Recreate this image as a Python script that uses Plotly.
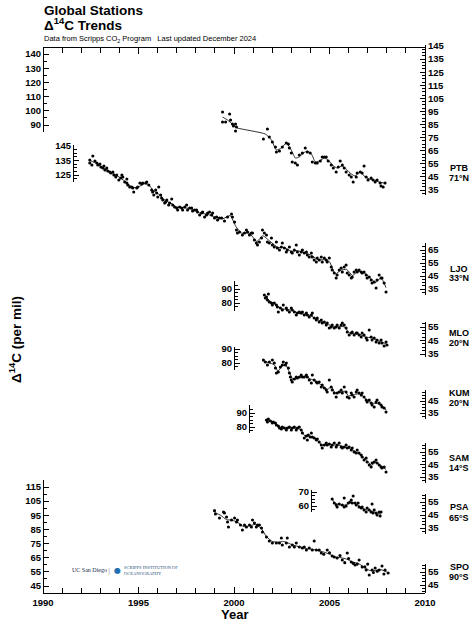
import plotly.graph_objects as go

# ---------------------------------------------------------------
# Delta 14C (per mil) as (decimal year, value)
# ---------------------------------------------------------------
ptb_points = [(1999.40, 94.6), (1999.40, 87.0), (1999.56, 87.0), (1999.77, 93.1), (1999.82, 88.5),
              (1999.92, 85.5), (1999.97, 83.9), (2000.08, 85.5), (2000.13, 83.2), (2000.08, 80.1),
              (2001.54, 74.0), (2001.75, 81.6), (2001.85, 75.5), (2002.01, 71.7), (2002.17, 67.9),
              (2002.22, 64.1), (2002.38, 64.8), (2002.53, 67.9), (2002.74, 71.0), (2002.85, 70.2),
              (2002.90, 67.1), (2003.00, 63.3), (2003.05, 56.5), (2003.21, 55.7), (2003.32, 54.2),
              (2003.42, 61.8), (2003.58, 63.3), (2003.73, 67.1), (2003.84, 64.1), (2003.99, 63.3),
              (2004.10, 56.5), (2004.26, 55.7), (2004.36, 55.7), (2004.52, 57.2), (2004.62, 60.3),
              (2004.73, 60.3), (2004.83, 60.3), (2004.93, 57.2), (2005.09, 54.2), (2005.20, 51.9),
              (2005.35, 48.8), (2005.46, 52.6), (2005.56, 57.2), (2005.67, 54.2), (2005.77, 51.9),
              (2005.87, 48.8), (2006.03, 46.5), (2006.14, 45.0), (2006.24, 41.2), (2006.40, 45.0),
              (2006.45, 48.0), (2006.61, 48.8), (2006.71, 48.0), (2006.81, 53.4), (2006.92, 45.0),
              (2007.02, 42.7), (2007.18, 44.2), (2007.28, 42.7), (2007.39, 41.2), (2007.49, 42.7),
              (2007.65, 40.4), (2007.70, 38.1), (2007.81, 37.4), (2007.91, 40.4)]
ptb_fit = [(1999.40, 90.8), (1999.66, 88.5), (2000.03, 83.9), (2000.18, 82.4), (2001.64, 77.8),
           (2001.96, 73.2), (2002.22, 65.6), (2002.48, 67.1), (2002.74, 71.0), (2003.00, 65.6),
           (2003.21, 59.5), (2003.42, 60.3), (2003.63, 63.3), (2003.84, 64.8), (2004.05, 62.6),
           (2004.26, 56.5), (2004.46, 57.2), (2004.73, 59.5), (2004.93, 58.0), (2005.20, 53.4),
           (2005.40, 51.9), (2005.67, 53.4), (2005.87, 51.1), (2006.14, 47.3), (2006.34, 45.8),
           (2006.61, 48.8), (2006.81, 45.8), (2007.08, 43.5), (2007.34, 42.7), (2007.60, 41.2),
           (2007.86, 40.4)]

ljo_points = [(1992.45, 134.2), (1992.45, 131.9), (1992.56, 130.4), (1992.61, 137.3), (1992.72, 133.5),
              (1992.82, 131.9), (1992.87, 130.4), (1992.98, 131.2), (1993.03, 128.8), (1993.13, 128.1),
              (1993.19, 129.6), (1993.24, 126.5), (1993.34, 128.1), (1993.39, 125.8), (1993.50, 125.0),
              (1993.55, 124.2), (1993.66, 125.0), (1993.71, 122.7), (1993.81, 121.2), (1993.86, 122.7),
              (1993.97, 118.8), (1994.07, 120.4), (1994.13, 122.7), (1994.18, 121.2), (1994.28, 117.3),
              (1994.39, 116.5), (1994.39, 119.6), (1994.44, 115.0), (1994.54, 113.5), (1994.65, 113.5),
              (1994.70, 112.7), (1994.75, 109.6), (1994.91, 112.7), (1994.96, 113.5), (1995.07, 116.5),
              (1995.17, 115.8), (1995.22, 116.5), (1995.38, 116.5), (1995.43, 117.3), (1995.54, 115.0),
              (1995.69, 111.2), (1995.74, 109.6), (1995.80, 107.3), (1995.90, 111.2), (1995.95, 108.8),
              (1996.01, 105.8), (1996.06, 113.5), (1996.16, 107.3), (1996.21, 105.0), (1996.27, 103.5),
              (1996.37, 101.2), (1996.42, 101.9), (1996.48, 103.5), (1996.58, 99.6), (1996.63, 101.2),
              (1996.74, 104.2), (1996.79, 99.6), (1996.89, 98.1), (1997.00, 97.3), (1997.05, 95.8),
              (1997.15, 98.1), (1997.26, 97.3), (1997.31, 95.8), (1997.42, 98.1), (1997.52, 99.6),
              (1997.57, 95.8), (1997.68, 97.3), (1997.78, 97.3), (1997.83, 95.0), (1997.94, 95.8),
              (1998.04, 95.8), (1998.09, 94.2), (1998.20, 91.9), (1998.30, 93.5), (1998.36, 94.2),
              (1998.46, 90.4), (1998.56, 91.9), (1998.62, 93.5), (1998.72, 94.2), (1998.83, 91.9),
              (1998.88, 93.5), (1998.98, 89.6), (1999.09, 90.4), (1999.14, 88.1), (1999.24, 89.6),
              (1999.35, 89.6), (1999.50, 87.3), (1999.66, 90.4), (1999.87, 92.7), (1999.92, 90.4),
              (2000.03, 86.5), (2000.13, 80.4), (2000.18, 78.1), (2000.29, 78.8), (2000.44, 76.5),
              (2000.55, 78.1), (2000.65, 80.4), (2000.71, 78.8), (2000.81, 76.5), (2000.91, 78.1),
              (2000.97, 78.1), (2001.07, 72.7), (2001.17, 70.4), (2001.23, 68.8), (2001.33, 71.2),
              (2001.44, 74.2), (2001.49, 80.4), (2001.59, 78.1), (2001.70, 76.5), (2001.75, 71.2),
              (2001.85, 70.4), (2001.96, 74.2), (2002.01, 68.8), (2002.11, 67.3), (2002.22, 71.2),
              (2002.27, 66.5), (2002.38, 65.0), (2002.48, 67.3), (2002.53, 70.4), (2002.64, 66.5),
              (2002.74, 63.5), (2002.79, 65.0), (2002.90, 67.3), (2003.00, 63.5), (2003.05, 62.7),
              (2003.16, 65.0), (2003.26, 68.8), (2003.32, 63.5), (2003.42, 61.2), (2003.52, 63.5),
              (2003.58, 65.0), (2003.68, 62.7), (2003.79, 63.5), (2003.84, 61.2), (2003.94, 59.6),
              (2004.05, 62.7), (2004.10, 59.6), (2004.20, 57.3), (2004.31, 55.8), (2004.36, 58.8),
              (2004.46, 57.3), (2004.57, 59.6), (2004.62, 55.8), (2004.73, 58.8), (2004.83, 57.3),
              (2004.88, 55.8), (2004.99, 58.8), (2005.09, 51.9), (2005.14, 49.6), (2005.25, 47.3),
              (2005.35, 43.5), (2005.40, 45.8), (2005.51, 49.6), (2005.61, 51.2), (2005.67, 48.1),
              (2005.77, 51.9), (2005.87, 53.5), (2005.93, 47.3), (2006.03, 45.8), (2006.14, 43.5),
              (2006.19, 44.2), (2006.29, 48.1), (2006.40, 49.6), (2006.45, 48.1), (2006.55, 49.6),
              (2006.66, 48.1), (2006.71, 47.3), (2006.81, 48.1), (2006.92, 45.8), (2006.97, 43.5),
              (2007.08, 44.2), (2007.18, 41.9), (2007.23, 39.6), (2007.34, 40.4), (2007.44, 35.8),
              (2007.49, 41.9), (2007.60, 45.8), (2007.70, 43.5), (2007.75, 43.5), (2007.86, 39.6),
              (2007.96, 32.7)]
ljo_fit = [(1992.45, 134.0), (1992.8, 131.5), (1993.2, 128.0), (1993.6, 124.5), (1994.0, 121.0),
           (1994.4, 116.5), (1994.7, 113.0), (1995.0, 113.5), (1995.3, 116.0), (1995.5, 115.5),
           (1995.8, 110.5), (1996.1, 107.5), (1996.4, 103.0), (1996.7, 101.0), (1997.0, 98.0),
           (1997.4, 97.5), (1997.8, 96.5), (1998.2, 93.5), (1998.6, 92.5), (1999.0, 90.5),
           (1999.4, 89.0), (1999.8, 91.5), (2000.1, 83.0), (2000.4, 78.0), (2000.8, 78.0),
           (2001.2, 71.5), (2001.5, 76.0), (2001.9, 71.5), (2002.3, 67.0), (2002.6, 67.0),
           (2003.0, 64.0), (2003.3, 64.5), (2003.7, 63.0), (2004.1, 60.5), (2004.4, 57.5),
           (2004.8, 57.5), (2005.0, 56.0), (2005.3, 46.5), (2005.6, 49.5), (2005.9, 50.0),
           (2006.2, 45.5), (2006.5, 48.5), (2006.8, 47.5), (2007.1, 44.0), (2007.4, 40.0),
           (2007.7, 43.5), (2007.96, 36.0)]

mlo_points = [(2001.59, 78.7), (2001.64, 76.5), (2001.70, 77.2), (2001.80, 79.4), (2001.75, 75.0),
              (2001.85, 73.5), (2001.96, 72.8), (2002.01, 71.3), (2002.11, 72.8), (2002.22, 71.3),
              (2002.27, 69.8), (2002.32, 66.1), (2002.43, 69.1), (2002.53, 67.6), (2002.58, 71.3),
              (2002.74, 69.1), (2002.79, 67.6), (2002.90, 66.1), (2003.00, 69.1), (2003.05, 67.6),
              (2003.16, 66.1), (2003.26, 63.9), (2003.32, 65.4), (2003.42, 66.1), (2003.52, 65.4),
              (2003.58, 66.1), (2003.68, 63.9), (2003.79, 65.4), (2003.84, 63.9), (2003.94, 62.4),
              (2004.05, 63.9), (2004.10, 65.4), (2004.20, 61.7), (2004.31, 60.2), (2004.36, 61.7),
              (2004.46, 58.7), (2004.57, 60.2), (2004.62, 58.0), (2004.73, 58.7), (2004.83, 56.5),
              (2004.88, 58.0), (2004.99, 54.3), (2005.09, 55.0), (2005.14, 56.5), (2005.25, 54.3),
              (2005.35, 55.0), (2005.40, 56.5), (2005.51, 54.3), (2005.61, 56.5), (2005.67, 58.0),
              (2005.77, 56.5), (2005.87, 54.3), (2005.93, 51.3), (2006.03, 49.1), (2006.14, 50.6),
              (2006.19, 51.3), (2006.29, 49.1), (2006.40, 50.6), (2006.45, 50.6), (2006.55, 49.1),
              (2006.66, 47.6), (2006.71, 50.6), (2006.81, 49.1), (2006.92, 46.9), (2006.97, 45.4),
              (2007.08, 52.8), (2007.18, 47.6), (2007.23, 45.4), (2007.34, 46.9), (2007.44, 43.9),
              (2007.49, 45.4), (2007.60, 43.1), (2007.70, 45.4), (2007.75, 43.1), (2007.86, 40.9),
              (2007.96, 43.9), (2008.01, 41.7)]
mlo_fit = [(2001.6, 78.5), (2001.9, 74.0), (2002.2, 71.5), (2002.5, 68.5), (2002.8, 68.0),
           (2003.1, 67.0), (2003.4, 65.0), (2003.7, 64.5), (2004.0, 63.5), (2004.3, 61.0),
           (2004.6, 59.0), (2004.9, 57.0), (2005.2, 55.5), (2005.5, 55.5), (2005.8, 55.0),
           (2006.0, 51.0), (2006.3, 50.0), (2006.6, 49.5), (2006.9, 47.5), (2007.2, 47.0),
           (2007.5, 45.0), (2007.8, 43.5), (2008.0, 42.0)]

kum_points = [(2001.54, 76.5), (2001.64, 75.0), (2001.75, 72.7), (2001.85, 75.0), (2002.01, 76.5),
              (2002.11, 74.2), (2002.17, 70.4), (2002.22, 66.5), (2002.32, 67.3), (2002.43, 71.2),
              (2002.53, 72.7), (2002.58, 75.0), (2002.69, 72.7), (2002.74, 74.2), (2002.85, 70.4),
              (2002.90, 66.5), (2002.95, 63.5), (2003.00, 61.2), (2003.05, 59.6), (2003.16, 61.9),
              (2003.26, 63.5), (2003.32, 62.7), (2003.42, 63.5), (2003.52, 65.0), (2003.58, 63.5),
              (2003.68, 63.5), (2003.79, 65.0), (2003.84, 63.5), (2003.94, 61.2), (2004.05, 58.8),
              (2004.10, 65.0), (2004.20, 61.2), (2004.31, 59.6), (2004.36, 58.8), (2004.46, 59.6),
              (2004.57, 55.8), (2004.62, 57.3), (2004.73, 55.0), (2004.83, 53.5), (2004.88, 51.9),
              (2004.99, 61.2), (2005.09, 55.8), (2005.14, 53.5), (2005.25, 51.2), (2005.35, 48.1),
              (2005.40, 51.2), (2005.51, 51.9), (2005.61, 53.5), (2005.67, 51.2), (2005.77, 55.8),
              (2005.87, 51.9), (2005.93, 48.1), (2006.03, 47.3), (2006.14, 51.2), (2006.19, 49.6),
              (2006.29, 48.1), (2006.40, 51.9), (2006.45, 53.5), (2006.55, 51.2), (2006.66, 49.6),
              (2006.71, 51.2), (2006.81, 48.1), (2006.92, 45.8), (2006.97, 44.2), (2007.08, 45.8),
              (2007.18, 43.5), (2007.23, 41.9), (2007.34, 40.4), (2007.44, 44.2), (2007.49, 45.8),
              (2007.60, 43.5), (2007.70, 41.9), (2007.75, 40.4), (2007.86, 39.6), (2007.96, 36.5)]
kum_fit = [(2001.5, 76.0), (2001.8, 74.5), (2002.1, 73.0), (2002.3, 68.0), (2002.5, 71.5),
           (2002.7, 73.0), (2002.9, 67.0), (2003.1, 61.5), (2003.4, 63.0), (2003.7, 64.0),
           (2004.0, 62.0), (2004.3, 60.0), (2004.6, 57.0), (2004.9, 54.0), (2005.1, 56.0),
           (2005.3, 51.0), (2005.6, 52.0), (2005.8, 52.5), (2006.0, 49.0), (2006.3, 50.0),
           (2006.6, 50.5), (2006.9, 46.5), (2007.2, 43.5), (2007.5, 43.0), (2007.8, 41.0),
           (2007.96, 38.0)]

sam_points = [(2001.70, 80.6), (2001.75, 79.0), (2001.80, 81.4), (2001.91, 79.8), (2002.01, 78.2),
              (2002.06, 79.0), (2002.17, 78.2), (2002.22, 76.6), (2002.32, 75.8), (2002.38, 74.2),
              (2002.48, 73.4), (2002.53, 75.0), (2002.64, 74.2), (2002.74, 72.6), (2002.79, 74.2),
              (2002.90, 75.0), (2003.00, 72.6), (2003.05, 74.2), (2003.16, 75.0), (2003.26, 72.6),
              (2003.32, 74.2), (2003.42, 75.0), (2003.52, 72.6), (2003.58, 70.2), (2003.68, 66.2),
              (2003.79, 67.8), (2003.84, 64.6), (2003.89, 68.6), (2003.99, 67.0), (2004.05, 70.2),
              (2004.10, 67.0), (2004.20, 66.2), (2004.31, 64.6), (2004.36, 65.4), (2004.46, 63.0),
              (2004.57, 60.6), (2004.62, 58.2), (2004.73, 60.6), (2004.83, 62.2), (2004.88, 60.6),
              (2004.99, 61.4), (2005.09, 59.0), (2005.14, 60.6), (2005.25, 62.2), (2005.35, 59.0),
              (2005.40, 60.6), (2005.51, 62.2), (2005.61, 59.0), (2005.67, 58.2), (2005.77, 59.0),
              (2005.87, 60.6), (2005.93, 58.2), (2006.03, 59.0), (2006.14, 56.6), (2006.19, 58.2),
              (2006.29, 55.0), (2006.40, 54.2), (2006.45, 56.6), (2006.55, 54.2), (2006.66, 52.6),
              (2006.71, 51.0), (2006.81, 48.6), (2006.92, 50.2), (2006.97, 47.0), (2007.08, 44.6),
              (2007.18, 43.0), (2007.23, 46.2), (2007.34, 47.0), (2007.44, 48.6), (2007.49, 46.2),
              (2007.60, 44.6), (2007.70, 43.0), (2007.75, 42.2), (2007.86, 43.0), (2007.96, 39.0)]
sam_fit = [(2001.7, 80.5), (2002.0, 79.0), (2002.3, 76.0), (2002.6, 74.0), (2002.9, 74.0),
           (2003.2, 74.0), (2003.5, 73.0), (2003.7, 68.0), (2004.0, 67.5), (2004.3, 65.5),
           (2004.6, 60.5), (2004.9, 61.0), (2005.2, 60.5), (2005.5, 60.5), (2005.8, 59.0),
           (2006.1, 57.5), (2006.4, 55.0), (2006.7, 51.5), (2007.0, 47.5), (2007.2, 44.0),
           (2007.4, 47.0), (2007.7, 44.0), (2007.96, 41.0)]

psa_points = [(2005.14, 57.3), (2005.25, 54.2), (2005.35, 52.7), (2005.40, 51.2), (2005.51, 53.5),
              (2005.67, 52.7), (2005.77, 58.1), (2005.77, 51.2), (2005.87, 51.9), (2005.98, 54.2),
              (2006.08, 55.0), (2006.14, 56.5), (2006.19, 54.2), (2006.24, 59.6), (2006.34, 54.2),
              (2006.40, 52.7), (2006.50, 54.2), (2006.55, 51.2), (2006.66, 50.4), (2006.71, 51.2),
              (2006.81, 48.8), (2006.92, 47.3), (2006.97, 50.4), (2007.08, 48.8), (2007.18, 47.3),
              (2007.23, 53.5), (2007.28, 46.5), (2007.34, 48.8), (2007.44, 46.5), (2007.49, 45.0),
              (2007.60, 47.3), (2007.65, 44.2), (2007.70, 47.3)]
psa_fit = [(2005.14, 57.0), (2005.3, 54.0), (2005.5, 53.0), (2005.7, 52.5), (2005.9, 53.0),
           (2006.1, 54.5), (2006.3, 54.0), (2006.5, 52.5), (2006.7, 50.5), (2006.9, 49.0),
           (2007.1, 48.5), (2007.3, 47.5), (2007.5, 46.5), (2007.7, 45.5)]

spo_points = [(1998.98, 98.3), (1999.03, 95.9), (1999.24, 93.1), (1999.45, 97.3), (1999.50, 96.6),
              (1999.61, 93.8), (1999.66, 90.3), (1999.71, 86.7), (1999.87, 91.7), (2000.03, 93.1),
              (2000.13, 90.3), (2000.18, 91.7), (2000.34, 88.1), (2000.44, 84.6), (2000.55, 88.1),
              (2000.65, 86.7), (2000.81, 88.1), (2000.91, 86.7), (2000.97, 91.7), (2001.07, 89.6),
              (2001.17, 86.7), (2001.23, 88.1), (2001.33, 88.1), (2001.44, 86.0), (2001.49, 83.2),
              (2001.70, 79.7), (2001.85, 76.8), (2002.01, 75.4), (2002.22, 75.4), (2002.38, 75.4),
              (2002.48, 78.9), (2002.53, 74.0), (2002.74, 75.4), (2002.79, 78.9), (2002.90, 72.6),
              (2003.05, 74.0), (2003.16, 72.6), (2003.26, 75.4), (2003.42, 72.6), (2003.58, 71.9),
              (2003.68, 72.6), (2003.79, 70.5), (2003.94, 71.9), (2004.10, 70.5), (2004.20, 76.8),
              (2004.31, 70.5), (2004.46, 70.5), (2004.57, 68.3), (2004.70, 67.5), (2004.88, 70.5),
              (2005.00, 68.5), (2005.14, 66.2), (2005.25, 65.5), (2005.40, 64.8), (2005.55, 66.5),
              (2005.67, 63.4), (2005.80, 61.5), (2005.93, 68.3), (2006.00, 64.5), (2006.14, 62.0),
              (2006.25, 61.0), (2006.34, 59.9), (2006.45, 60.5), (2006.55, 63.4), (2006.71, 58.4),
              (2006.85, 58.5), (2006.92, 56.3), (2007.00, 60.5), (2007.08, 52.8), (2007.23, 56.3),
              (2007.30, 54.5), (2007.39, 57.7), (2007.50, 55.5), (2007.60, 56.3), (2007.75, 59.1),
              (2007.85, 53.5), (2007.91, 56.3), (2008.07, 54.2)]
spo_fit = [(1998.98, 97.0), (1999.3, 95.0), (1999.6, 92.0), (1999.9, 91.5), (2000.2, 90.0),
           (2000.5, 87.0), (2000.8, 87.5), (2001.1, 88.5), (2001.4, 86.0), (2001.7, 80.0),
           (2002.0, 76.5), (2002.3, 76.0), (2002.6, 76.5), (2002.9, 75.0), (2003.2, 73.5),
           (2003.5, 72.5), (2003.8, 71.5), (2004.1, 71.0), (2004.4, 70.0), (2004.7, 69.0),
           (2005.0, 67.5), (2005.3, 65.5), (2005.6, 65.0), (2005.9, 64.0), (2006.2, 62.0),
           (2006.5, 61.0), (2006.8, 58.5), (2007.1, 56.0), (2007.4, 56.0), (2007.7, 56.5),
           (2008.0, 55.0)]

station_codes = ['PTB', 'LJO', 'MLO', 'KUM', 'SAM', 'PSA', 'SPO']
station_lats = ['71°N', '33°N', '20°N', '20°N', '14°S', '65°S', '90°S']
year_ticks = [1990, 1995, 2000, 2005, 2010]

series = {
    'PTB': (ptb_points, ptb_fit),
    'LJO': (ljo_points, ljo_fit),
    'MLO': (mlo_points, mlo_fit),
    'KUM': (kum_points, kum_fit),
    'SAM': (sam_points, sam_fit),
    'PSA': (psa_points, psa_fit),
    'SPO': (spo_points, spo_fit),
}

#############################################
# page geometry (pixels) -> paper fractions
#############################################
W, H = 474, 623
ML, MR, MT, MB = 43, 49, 44, 30
PW, PH = W - ML - MR, H - MT - MB


def fx(px):
    return (px - ML) / PW


def fy(py):
    return (H - MB - py) / PH


# each station's offset: a reference value, its pixel row and pixels per unit
station_scale = {
    'PTB': (145, 46, 1.31),
    'LJO': (65, 250, 1.30),
    'MLO': (55, 327, 1.35),
    'KUM': (45, 401, 1.30),
    'SAM': (55, 452, 1.25),
    'PSA': (55, 502, 1.30),
    'SPO': (45, 586, 1.414),
}

# short axis pieces: side, x pixel, top label / pixel, bottom label / pixel, line top / bottom, minor step
axis_pieces = [
    ('left', 43, 140, 54, 90, 125, 48, 132, 5),
    ('right', 425, 145, 46, 35, 190, 45, 195, 2.5),
    ('left', 73, 145, 146, 125, 175, 145, 182, 2.5),
    ('right', 425, 65, 250, 35, 289, 243, 295, 2.5),
    ('left', 234, 90, 289, 80, 303, 281, 311, 2.5),
    ('right', 425, 55, 327, 35, 354, 322, 357, 2.5),
    ('left', 234, 90, 349, 80, 363, 347, 370, 2.5),
    ('right', 425, 45, 401, 35, 413, 390, 419, 2.5),
    ('left', 249, 90, 413, 80, 427, 405, 433, 2.5),
    ('right', 425, 55, 452, 35, 477, 443, 483, 2.5),
    ('left', 311, 70, 492, 60, 506, 490, 512, 2.5),
    ('right', 425, 55, 502, 35, 528, 494, 534, 2.5),
    ('left', 43, 115, 487, 45, 586, 480, 593, 5),
    ('right', 425, 55, 572, 45, 585, 564, 593, 2.5),
]

label_rows = [(168, 178), (269, 278), (333, 343), (393, 403), (458, 468), (507, 518), (567, 577)]

FONT = 'Liberation Sans, Arial, Helvetica, sans-serif'
tick_font = dict(family=FONT, size=9.5, color='black', weight='bold')

fig = go.Figure()
axes = {}

# anchor axis for the frame (top line sits at y=48)
axes['yaxis'] = dict(domain=[0, fy(48)], range=[0, 1], visible=False, fixedrange=True)
fig.add_trace(go.Scatter(x=[None], y=[None], yaxis='y', showlegend=False, hoverinfo='skip'))

n = 2
for code in station_codes:
    pts, fit = series[code]
    v0, p0, s = station_scale[code]
    axes['yaxis%d' % n] = dict(domain=[0, 1], anchor='x', visible=False, fixedrange=True,
                               range=[v0 - (H - MB - p0) / s, v0 + (p0 - MT) / s])
    fig.add_trace(go.Scatter(
        x=[p[0] for p in fit], y=[p[1] for p in fit], yaxis='y%d' % n, mode='lines',
        line=dict(color='#1a1a1a', width=0.9, shape='spline', smoothing=0.5),
        hoverinfo='skip', showlegend=False))
    fig.add_trace(go.Scatter(
        x=[p[0] for p in pts], y=[p[1] for p in pts], yaxis='y%d' % n, mode='markers',
        marker=dict(size=3.1, color='black'), name=code, showlegend=False))
    n += 1

for side, xp, vt, pt, vb, pb, lt, lb, mstep in axis_pieces:
    s = (pb - pt) / (vt - vb)
    axes['yaxis%d' % n] = dict(
        domain=[fy(lb), fy(lt)], range=[vb - (lb - pb) / s, vt + (pt - lt) / s],
        anchor='free', position=fx(xp), side=side,
        showline=True, linecolor='black', linewidth=1.2,
        ticks='inside', ticklen=5, tickwidth=1.1, tickcolor='black',
        tickmode='linear', tick0=vb, dtick=10,
        minor=dict(ticks='inside', ticklen=3, tickwidth=0.9, tickcolor='black', dtick=mstep, tick0=vb),
        showgrid=False, zeroline=False, tickfont=tick_font, fixedrange=True)
    fig.add_trace(go.Scatter(x=[None], y=[None], yaxis='y%d' % n, showlegend=False, hoverinfo='skip'))
    n += 1

fig.update_layout(**axes)
fig.update_layout(
    width=W, height=H,
    margin=dict(l=ML, r=MR, t=MT, b=MB),
    paper_bgcolor='white', plot_bgcolor='rgba(0,0,0,0)',
    showlegend=False,
    xaxis=dict(domain=[0, 1], range=[1990, 2010], anchor='y',
               showline=True, linecolor='black', linewidth=1.2, mirror='ticks',
               ticks='inside', ticklen=6, tickwidth=1.1, tickcolor='black',
               tickmode='array', tickvals=year_ticks, ticktext=[str(y) for y in year_ticks],
               minor=dict(ticks='inside', ticklen=5, tickwidth=1, tickcolor='black', dtick=1, tick0=1990),
               showgrid=False, zeroline=False, tickfont=tick_font, fixedrange=True),
)

ann = []
ann.append(dict(text='<b>Global Stations</b>', x=fx(42), y=fy(1.5), xanchor='left', yanchor='top',
                font=dict(family=FONT, size=13.5, color='black')))
ann.append(dict(text='<b>Δ<sup>14</sup>C Trends</b>', x=fx(42), y=fy(24), xanchor='left', yanchor='middle',
                font=dict(family=FONT, size=13.5, color='black')))
ann.append(dict(text='Data from Scripps CO<sub>2</sub> Program\u00a0\u00a0\u00a0Last updated December 2024',
                x=fx(42), y=fy(39), xanchor='left', yanchor='middle',
                font=dict(family=FONT, size=7.5, color='black')))
ann.append(dict(text='<b>Δ<sup>14</sup>C (per mil)</b>', x=fx(15), y=fy(340), textangle=-90,
                xanchor='center', yanchor='middle', font=dict(family=FONT, size=13.5, color='black')))
ann.append(dict(text='<b>Year</b>', x=fx(234), y=fy(614), xanchor='center', yanchor='middle',
                font=dict(family=FONT, size=13, color='black')))

for code, lat, (r1, r2) in zip(station_codes, station_lats, label_rows):
    ann.append(dict(text='<b>%s</b>' % code, x=fx(459), y=fy(r1), xanchor='center', yanchor='middle',
                    font=dict(family=FONT, size=9, color='black')))
    ann.append(dict(text='<b>%s</b>' % lat, x=fx(459), y=fy(r2), xanchor='center', yanchor='middle',
                    font=dict(family=FONT, size=9, color='black')))

# logos (as text)
ann.append(dict(text='UC San Diego', x=fx(89), y=fy(570), xanchor='center', yanchor='middle',
                font=dict(family='Liberation Serif, Times New Roman, serif', size=6, color='#182b49')))
ann.append(dict(text='|', x=fx(109), y=fy(570), xanchor='center', yanchor='middle',
                font=dict(family=FONT, size=8, color='#b0b0b0')))
ann.append(dict(text='●', x=fx(117), y=fy(570), xanchor='center', yanchor='middle',
                font=dict(family='DejaVu Sans', size=8, color='#1f6fb2')))
ann.append(dict(text='SCRIPPS INSTITUTION OF<br>OCEANOGRAPHY', x=fx(122), y=fy(570), xanchor='left',
                yanchor='middle', align='left',
                font=dict(family='Liberation Serif, Times New Roman, serif', size=4.5, color='#1f4e79')))

for a in ann:
    a.update(xref='paper', yref='paper', showarrow=False)
fig.update_layout(annotations=ann)

# the page's default body margin would push the fixed-size figure off the window
fig.write_html("out.html", config={'displayModeBar': False},
               post_script="document.body.style.margin='0';")
